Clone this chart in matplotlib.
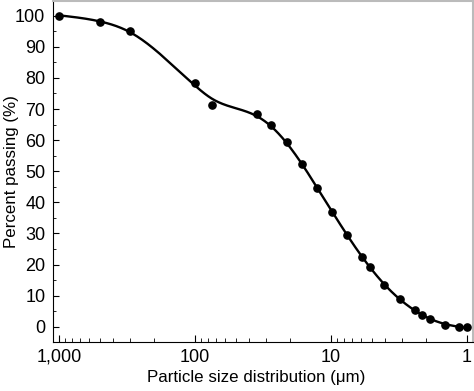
import numpy as np
import matplotlib
matplotlib.use("Agg")
import matplotlib.pyplot as plt
from matplotlib.ticker import FixedLocator, LogLocator, MultipleLocator, NullFormatter

plt.rcParams['font.family'] = ['Liberation Sans', 'DejaVu Sans']

size_um = [1000, 500, 300, 100, 75, 35.2, 27.5, 21.2, 16.4, 12.7, 9.8, 7.6, 5.9, 5.17,
           4.05, 3.11, 2.41, 2.13, 1.87, 1.45, 1.14, 1.0]
passing = [100.0, 98.0, 95.2, 78.3, 71.4, 68.5, 64.8, 59.3, 52.4, 44.7, 36.9, 29.5, 22.3, 19.2,
           13.4, 8.8, 5.3, 3.8, 2.4, 0.6, 0.0, 0.0]
xticks = [1000, 100, 10, 1]
xticklabels = ["1,000", "100", "10", "1"]
yticks = [0, 10, 20, 30, 40, 50, 60, 70, 80, 90, 100]


def smoothing_curve(lx, y, lam=1e-3, n=600):
    """Penalised least-squares smoothing of the data in log-x space (drawing only)."""
    lx = np.asarray(lx, float); y = np.asarray(y, float)
    g = np.linspace(lx.min(), lx.max(), n)
    h = g[1] - g[0]
    A = np.zeros((len(lx), n))
    for i, xv in enumerate(lx):
        k = min(int((xv - g[0]) / h), n - 2)
        t = (xv - g[k]) / h
        A[i, k] += 1 - t
        A[i, k + 1] += t
    D = np.zeros((n - 2, n))
    for k in range(n - 2):
        D[k, k:k + 3] = [1, -2, 1]
    D /= h ** 2
    M = A.T @ A + lam * h * D.T @ D
    f = np.linalg.solve(M, A.T @ y)
    return g, f


gx, gy = smoothing_curve(np.log10(size_um), passing)

fig = plt.figure(figsize=(4.74, 3.91), dpi=100)
ax = fig.add_axes([0.1118, 0.1253, 0.886, 0.872])
ax.plot(10 ** gx, gy, color='black', lw=1.7)
ax.plot(size_um, passing, 'o', color='black', ms=5.2)

ax.set_xscale('log')
ax.set_xlim(1106, 0.904)
ax.set_ylim(-4.9, 104.7)
ax.xaxis.set_major_locator(FixedLocator(xticks))
ax.set_xticklabels(xticklabels)
ax.xaxis.set_minor_locator(LogLocator(base=10, subs=np.arange(2, 10)))
ax.xaxis.set_minor_formatter(NullFormatter())
ax.set_yticks(yticks)
ax.yaxis.set_minor_locator(MultipleLocator(5))

ax.tick_params(axis='x', which='both', direction='in', labelsize=13, pad=5)
ax.tick_params(axis='x', which='major', length=5)
ax.tick_params(axis='x', which='minor', length=3)
ax.tick_params(axis='y', which='both', direction='in', labelsize=13, pad=5.5)
ax.tick_params(axis='y', which='major', length=4.5)
ax.tick_params(axis='y', which='minor', length=2.5)
ax.tick_params(top=False, right=False)

for s in ['top', 'right']:
    ax.spines[s].set_color('#bbbbbb')
    ax.spines[s].set_linewidth(1.5)
for s in ['left', 'bottom']:
    ax.spines[s].set_color('black')

ax.set_xlabel("Particle size distribution (\u03bcm)", fontsize=12.2)
ax.set_ylabel("Percent passing (%)", fontsize=12.2)
ax.xaxis.set_label_coords(0.4845, -0.082)
ax.yaxis.set_label_coords(-0.081, 0.5)

fig.savefig("out.png", dpi=100)
